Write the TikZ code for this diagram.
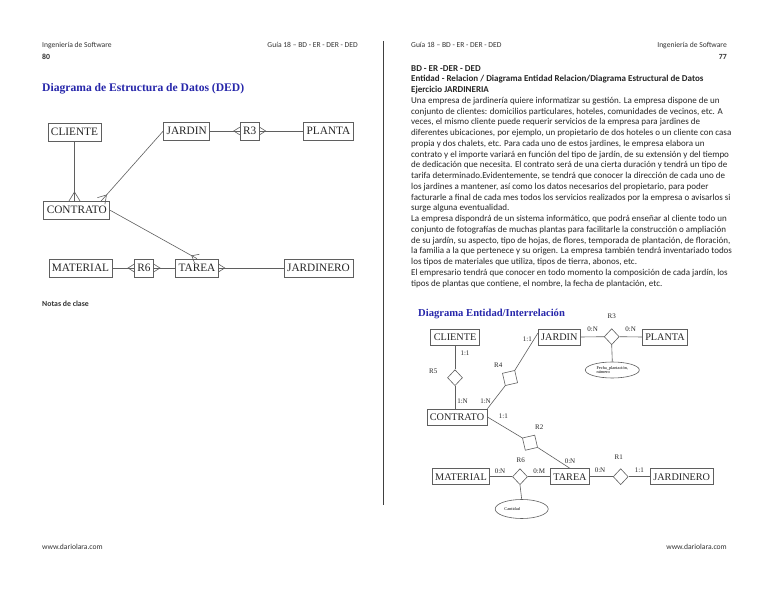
\documentclass[tikz,border=0pt]{standalone}
\usepackage{fontspec}
\setmainfont{Carlito}
\newfontfamily\timesfont{Liberation Serif}
\usepackage{tikz}
\usetikzlibrary{positioning,shapes.geometric,calc}
\definecolor{titleblue}{RGB}{38,38,170}
\definecolor{linegray}{RGB}{95,95,95}

\begin{document}
\begin{tikzpicture}[x=1pt, y=-1pt,
    page/.style={anchor=base west, inner sep=0pt, font=\fontsize{7.6}{9}\selectfont, text=black!80},
    entity/.style={rectangle, draw=linegray, line width=0.7pt, minimum height=18pt, inner xsep=3pt, inner ysep=0pt, font=\timesfont\fontsize{11.3}{12}\selectfont, text=black!85},
    ent/.style={entity, minimum height=16pt, font=\timesfont\fontsize{10.2}{11}\selectfont},
    rel/.style={diamond, draw=linegray, line width=0.6pt, minimum width=15pt, minimum height=16pt, inner sep=0pt},
    attr/.style={ellipse, draw=linegray, line width=0.6pt, inner sep=0pt, align=left, font=\timesfont\fontsize{4.3}{4.8}\selectfont},
    card/.style={inner sep=0pt, font=\timesfont\fontsize{7}{8}\selectfont, text=black!85},
    link/.style={draw=linegray, line width=0.6pt}
]
\path[fill=white, use as bounding box] (0,0) rectangle (768,593);

% paginas
\node[page] (lhl) at (42,47.5) {Ingeniería de Software};
\node[page, anchor=base east] (lhr) at (358,47.5) {Guía 18 – BD - ER - DER - DED};
\node[page, font=\fontsize{7.8}{9}\selectfont\bfseries] (lnum) at (42,60) {80};
\node[page, font=\fontsize{7.8}{9}\selectfont\bfseries] (notas) at (42,306.5) {Notas de clase};
\node[page] (lfoot) at (42,549.5) {www.dariolara.com};
\node[page] (rhl) at (411,47.5) {Guía 18 – BD - ER - DER - DED};
\node[page, anchor=base east] (rhr) at (727,47.5) {Ingeniería de Software};
\node[page, anchor=base east, font=\fontsize{7.8}{9}\selectfont\bfseries] (rnum) at (727,60) {77};
\node[page, anchor=base east] (rfoot) at (727,549.5) {www.dariolara.com};
\draw[line width=1pt, black!75] (383,41) -- (383,505);

\node[anchor=north west, inner sep=0pt, align=left, font=\fontsize{9}{10.75}\selectfont, text=black!85] (body) at (411,65) {%
\textbf{BD - ER -DER - DED}\\
\textbf{Entidad - Relacion / Diagrama Entidad Relacion/Diagrama Estructural de Datos}\\
\textbf{Ejercicio JARDINERIA}\\
Una empresa de jardinería quiere informatizar su gestión. La empresa dispone de un\\
conjunto de clientes: domicilios particulares, hoteles, comunidades de vecinos, etc. A\\
veces, el mismo cliente puede requerir servicios de la empresa para jardines de\\
diferentes ubicaciones, por ejemplo, un propietario de dos hoteles o un cliente con casa\\
propia y dos chalets, etc. Para cada uno de estos jardines, le empresa elabora un\\
contrato y el importe variará en función del tipo de jardín, de su extensión y del tiempo\\
de dedicación que necesita. El contrato será de una cierta duración y tendrá un tipo de\\
tarifa determinado.Evidentemente, se tendrá que conocer la dirección de cada uno de\\
los jardines a mantener, así como los datos necesarios del propietario, para poder\\
facturarle a final de cada mes todos los servicios realizados por la empresa o avisarlos si\\
surge alguna eventualidad.\\
La empresa dispondrá de un sistema informático, que podrá enseñar al cliente todo un\\
conjunto de fotografías de muchas plantas para facilitarle la construcción o ampliación\\
de su jardín, su aspecto, tipo de hojas, de flores, temporada de plantación, de floración,\\
la familia a la que pertenece y su origen. La empresa también tendrá inventariado todos\\
los tipos de materiales que utiliza, tipos de tierra, abonos, etc.\\
El empresario tendrá que conocer en todo momento la composición de cada jardín, los\\
tipos de plantas que contiene, el nombre, la fecha de plantación, etc.};

% DED
\node[page, font=\timesfont\fontsize{11.6}{13}\selectfont\bfseries, text=titleblue] (dedtitle) at (42,92) {Diagrama de Estructura de Datos (DED)};
\node[entity] (cli) at (74.5,132) {CLIENTE};
\node[entity] (jar) at (186.7,131) {JARDIN};
\node[entity] (r3)  at (249.7,131) {R3};
\node[entity] (pla) at (328.5,131) {PLANTA};
\node[entity] (con) at (76.8,210.3) {CONTRATO};
\node[entity] (mat) at (80.5,268) {MATERIAL};
\node[entity] (r6)  at (144,268) {R6};
\node[entity] (tar) at (197,268) {TAREA};
\node[entity] (jdn) at (318.5,268) {JARDINERO};
\coordinate (cfoot) at (cli.south |- con.north);
\coordinate (jfoot) at ([xshift=-9pt]con.north east);
\foreach \a/\b/\w/\l in {cli.south/cfoot/5.5/9,jar.west/jfoot/5/8,con.east/tar.north/5/6,jar.east/r3.west/3.8/6,pla.west/r3.east/3.8/6,mat.east/r6.west/3.8/6,tar.west/r6.east/3.8/6,jdn.west/tar.east/3.8/6}{
  \draw[link] (\a) -- (\b);
  \draw[link] ($(\b)!{\w*1pt}!90:(\a)$) -- ($(\b)!{\l*1pt}!(\a)$) -- ($(\b)!{\w*1pt}!-90:(\a)$);
}

% Entidad/Interrelacion
\node[page, font=\timesfont\fontsize{10.6}{12}\selectfont\bfseries, text=titleblue] (ertitle) at (418,317) {Diagrama Entidad/Interrelación};
\node[ent] (ecli) at (455,337) {CLIENTE};
\node[ent] (ejar) at (559.3,337) {JARDIN};
\node[ent] (epla) at (665,337) {PLANTA};
\node[ent] (econ) at (457,417) {CONTRATO};
\node[ent] (emat) at (461,476.7) {MATERIAL};
\node[ent] (etar) at (570,476.7) {TAREA};
\node[ent] (ejdn) at (681.7,476.7) {JARDINERO};
\node[rel] (er3) at (611.7,336.7) {};
\node[rel] (er5) at (455,377.7) {};
\node[rel, minimum width=18pt, minimum height=18pt, rotate=58] (er4) at (510,378) {};
\node[rel, minimum width=18pt, minimum height=18pt, rotate=-32] (er2) at (530,442.7) {};
\node[rel] (er6) at (520,476.7) {};
\node[rel] (er1) at (620.7,476.7) {};
\node[attr, minimum width=54pt, minimum height=16pt] (fecha) at (612.3,370) {Fecha\_plantación,\\número};
\node[attr, minimum width=53pt, minimum height=19pt] (cant) at (521.7,509) {};
\node[attr, draw=none, anchor=west] (canttxt) at ([xshift=6pt]cant.west) {Cantidad};
\foreach \a/\b in {ejar.east/er3.west,er3.east/epla.west,er3.south/fecha.north,ecli.south/er5.north,ejar.170/er4.east,er4.west/econ.north east,econ.east/er2.west,er2.east/etar.north,emat.east/er6.west,er6.east/etar.west,er6.south/cant.north,etar.east/er1.west,er1.east/ejdn.west}{\draw[link] (\a) -- (\b);}
\draw[link] (er5.south) -- (er5.south |- econ.north);

\node[card] (lr3) at (611.7,316.7) {R3};
\node[card] (c1) at (592.7,329.3) {0:N};
\node[card] (c2) at (630.7,329.3) {0:N};
\node[card] (c3) at (527.3,339.3) {1:1};
\node[card] (c4) at (465,353.3) {1:1};
\node[card] (lr5) at (433.3,371.7) {R5};
\node[card] (lr4) at (498.3,365) {R4};
\node[card] (c5) at (462.5,401) {1:N};
\node[card] (c6) at (485.5,401) {1:N};
\node[card] (c7) at (503.3,416.7) {1:1};
\node[card] (lr2) at (539.3,427.3) {R2};
\node[card] (lr6) at (520.7,460.7) {R6};
\node[card] (c8) at (570,461.7) {0:N};
\node[card] (lr1) at (618.7,457.3) {R1};
\node[card] (c9) at (500,471.7) {0:N};
\node[card] (c10) at (539.3,471.7) {0:M};
\node[card] (c11) at (600,470.7) {0:N};
\node[card] (c12) at (639.3,470.7) {1:1};
\end{tikzpicture}
\end{document}
